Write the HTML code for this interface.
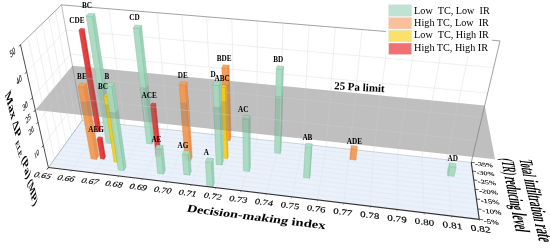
<!DOCTYPE html>
<html><head><meta charset="utf-8"><style>
html,body{margin:0;padding:0;background:#fff;}
svg{display:block;}
text{font-family:"Liberation Serif",serif;fill:#000;}
.bl{font-weight:bold;font-size:7.2px;text-anchor:middle;}
.lg{font-size:10.2px;white-space:pre;}
.pa{font-weight:bold;font-size:11px;}
.tk{font-size:10px;stroke:#000;stroke-width:0.18px;}
.tky{font-size:8px;stroke:#000;stroke-width:0.15px;}
.tkz{font-size:9px;stroke:#000;stroke-width:0.15px;}
.ttl{font-size:14px;font-weight:bold;}
.zt{font-size:12px;font-weight:bold;}
.yt{font-size:10px;font-weight:bold;}
</style></head><body>
<svg width="550" height="248" viewBox="0 0 550 248">
<rect width="550" height="248" fill="#fff"/>
<polygon points="48.4,167.57 82.27,120.26 61.43,4.86 20.49,44.7" fill="#ffffff" />
<line x1="54.53" y1="159" x2="27.98" y2="37.41" stroke="#e4e4e4" stroke-width="0.6" />
<line x1="60.46" y1="150.73" x2="35.19" y2="30.4" stroke="#e4e4e4" stroke-width="0.6" />
<line x1="66.18" y1="142.73" x2="42.12" y2="23.65" stroke="#e4e4e4" stroke-width="0.6" />
<line x1="71.72" y1="134.99" x2="48.8" y2="17.16" stroke="#e4e4e4" stroke-width="0.6" />
<line x1="77.08" y1="127.51" x2="55.23" y2="10.9" stroke="#e4e4e4" stroke-width="0.6" />
<line x1="43.36" y1="145.39" x2="78.47" y2="99.21" stroke="#e4e4e4" stroke-width="0.6" />
<line x1="38.07" y1="122.11" x2="74.5" y2="77.22" stroke="#e4e4e4" stroke-width="0.6" />
<line x1="32.51" y1="97.63" x2="70.34" y2="54.21" stroke="#e4e4e4" stroke-width="0.6" />
<line x1="26.66" y1="71.86" x2="65.99" y2="30.11" stroke="#e4e4e4" stroke-width="0.6" />
<polygon points="82.27,120.26 471.27,162.41 500.01,40.87 61.43,4.86" fill="#ffffff" />
<line x1="103.37" y1="122.55" x2="84.98" y2="6.79" stroke="#e4e4e4" stroke-width="0.6" />
<line x1="124.67" y1="124.86" x2="108.78" y2="8.75" stroke="#e4e4e4" stroke-width="0.6" />
<line x1="146.19" y1="127.19" x2="132.84" y2="10.72" stroke="#e4e4e4" stroke-width="0.6" />
<line x1="167.92" y1="129.54" x2="157.18" y2="12.72" stroke="#e4e4e4" stroke-width="0.6" />
<line x1="189.86" y1="131.92" x2="181.78" y2="14.74" stroke="#e4e4e4" stroke-width="0.6" />
<line x1="212.02" y1="134.32" x2="206.66" y2="16.78" stroke="#e4e4e4" stroke-width="0.6" />
<line x1="234.41" y1="136.75" x2="231.83" y2="18.85" stroke="#e4e4e4" stroke-width="0.6" />
<line x1="257.02" y1="139.2" x2="257.27" y2="20.94" stroke="#e4e4e4" stroke-width="0.6" />
<line x1="279.86" y1="141.67" x2="283.01" y2="23.05" stroke="#e4e4e4" stroke-width="0.6" />
<line x1="302.93" y1="144.17" x2="309.05" y2="25.19" stroke="#e4e4e4" stroke-width="0.6" />
<line x1="326.24" y1="146.7" x2="335.38" y2="27.35" stroke="#e4e4e4" stroke-width="0.6" />
<line x1="349.79" y1="149.25" x2="362.02" y2="29.54" stroke="#e4e4e4" stroke-width="0.6" />
<line x1="373.58" y1="151.83" x2="388.98" y2="31.75" stroke="#e4e4e4" stroke-width="0.6" />
<line x1="397.63" y1="154.43" x2="416.25" y2="33.99" stroke="#e4e4e4" stroke-width="0.6" />
<line x1="421.92" y1="157.06" x2="443.84" y2="36.26" stroke="#e4e4e4" stroke-width="0.6" />
<line x1="446.47" y1="159.72" x2="471.76" y2="38.55" stroke="#e4e4e4" stroke-width="0.6" />
<line x1="78.47" y1="99.21" x2="476.47" y2="140.44" stroke="#e4e4e4" stroke-width="0.6" />
<line x1="74.5" y1="77.22" x2="481.92" y2="117.38" stroke="#e4e4e4" stroke-width="0.6" />
<line x1="70.34" y1="54.21" x2="487.65" y2="93.17" stroke="#e4e4e4" stroke-width="0.6" />
<line x1="65.99" y1="30.11" x2="493.67" y2="67.69" stroke="#e4e4e4" stroke-width="0.6" />
<polygon points="48.4,167.57 479.29,219.37 471.27,162.41 82.27,120.26" fill="#eaf1fa" />
<line x1="71.56" y1="170.35" x2="103.37" y2="122.55" stroke="#dee6f0" stroke-width="0.6" />
<line x1="94.97" y1="173.17" x2="124.67" y2="124.86" stroke="#dee6f0" stroke-width="0.6" />
<line x1="118.64" y1="176.01" x2="146.19" y2="127.19" stroke="#dee6f0" stroke-width="0.6" />
<line x1="142.56" y1="178.89" x2="167.92" y2="129.54" stroke="#dee6f0" stroke-width="0.6" />
<line x1="166.75" y1="181.8" x2="189.86" y2="131.92" stroke="#dee6f0" stroke-width="0.6" />
<line x1="191.21" y1="184.74" x2="212.02" y2="134.32" stroke="#dee6f0" stroke-width="0.6" />
<line x1="215.94" y1="187.71" x2="234.41" y2="136.75" stroke="#dee6f0" stroke-width="0.6" />
<line x1="240.95" y1="190.72" x2="257.02" y2="139.2" stroke="#dee6f0" stroke-width="0.6" />
<line x1="266.24" y1="193.76" x2="279.86" y2="141.67" stroke="#dee6f0" stroke-width="0.6" />
<line x1="291.81" y1="196.83" x2="302.93" y2="144.17" stroke="#dee6f0" stroke-width="0.6" />
<line x1="317.68" y1="199.94" x2="326.24" y2="146.7" stroke="#dee6f0" stroke-width="0.6" />
<line x1="343.84" y1="203.09" x2="349.79" y2="149.25" stroke="#dee6f0" stroke-width="0.6" />
<line x1="370.31" y1="206.27" x2="373.58" y2="151.83" stroke="#dee6f0" stroke-width="0.6" />
<line x1="397.08" y1="209.49" x2="397.63" y2="154.43" stroke="#dee6f0" stroke-width="0.6" />
<line x1="424.16" y1="212.74" x2="421.92" y2="157.06" stroke="#dee6f0" stroke-width="0.6" />
<line x1="451.56" y1="216.04" x2="446.47" y2="159.72" stroke="#dee6f0" stroke-width="0.6" />
<line x1="51.49" y1="163.25" x2="478.55" y2="214.12" stroke="#dee6f0" stroke-width="0.6" />
<line x1="54.53" y1="159" x2="477.83" y2="208.97" stroke="#dee6f0" stroke-width="0.6" />
<line x1="57.52" y1="154.83" x2="477.11" y2="203.92" stroke="#dee6f0" stroke-width="0.6" />
<line x1="60.46" y1="150.73" x2="476.42" y2="198.97" stroke="#dee6f0" stroke-width="0.6" />
<line x1="63.35" y1="146.69" x2="475.73" y2="194.1" stroke="#dee6f0" stroke-width="0.6" />
<line x1="66.18" y1="142.73" x2="475.06" y2="189.32" stroke="#dee6f0" stroke-width="0.6" />
<line x1="68.98" y1="138.83" x2="474.4" y2="184.64" stroke="#dee6f0" stroke-width="0.6" />
<line x1="71.72" y1="134.99" x2="473.75" y2="180.03" stroke="#dee6f0" stroke-width="0.6" />
<line x1="74.42" y1="131.22" x2="473.12" y2="175.51" stroke="#dee6f0" stroke-width="0.6" />
<line x1="77.08" y1="127.51" x2="472.49" y2="171.06" stroke="#dee6f0" stroke-width="0.6" />
<line x1="79.69" y1="123.85" x2="471.88" y2="166.7" stroke="#dee6f0" stroke-width="0.6" />
<line x1="61.43" y1="4.86" x2="500.01" y2="40.87" stroke="#8a8a8a" stroke-width="0.8" />
<line x1="20.49" y1="44.7" x2="61.43" y2="4.86" stroke="#8a8a8a" stroke-width="0.8" />
<line x1="82.27" y1="120.26" x2="61.43" y2="4.86" stroke="#a0a0a0" stroke-width="0.7" />
<line x1="471.27" y1="162.41" x2="500.01" y2="40.87" stroke="#8a8a8a" stroke-width="0.8" />
<line x1="82.27" y1="120.26" x2="471.27" y2="162.41" stroke="#b0b8c4" stroke-width="0.6" />
<line x1="48.4" y1="167.57" x2="82.27" y2="120.26" stroke="#9aa3ae" stroke-width="0.7" />
<g fill-opacity="0.9" stroke="#bf2a2a" stroke-width="0.45" stroke-linejoin="round" stroke-opacity="0.8">
<polygon points="95.99,131.57 99.41,131.95 90.32,76.72 86.71,76.37" fill="#e52d2b" />
<polygon points="99.41,131.95 100.8,129.84 91.83,74.76 90.32,76.72" fill="#d82221" />
</g>
<g fill-opacity="0.9" stroke="#7fb89a" stroke-width="0.45" stroke-linejoin="round" stroke-opacity="0.8">
<polygon points="106.35,142.98 111.78,143.6 103.19,87.6 97.44,87.02" fill="#a3d8bd" />
<polygon points="111.78,143.6 113.87,140.21 105.47,84.44 103.19,87.6" fill="#95ceb2" />
</g>
<g fill-opacity="0.9" stroke="#7fb89a" stroke-width="0.45" stroke-linejoin="round" stroke-opacity="0.8">
<polygon points="146.7,143.44 152.19,144.06 146.02,88.05 140.21,87.47" fill="#a3d8bd" />
<polygon points="152.19,144.06 153.99,140.67 147.97,84.89 146.02,88.05" fill="#95ceb2" />
</g>
<g fill-opacity="0.9" stroke="#d9843f" stroke-width="0.45" stroke-linejoin="round" stroke-opacity="0.8">
<polygon points="224.18,140.11 229.72,140.71 228.22,84.97 222.35,84.41" fill="#f4954a" />
<polygon points="229.72,140.71 230.96,137.38 229.54,81.86 228.22,84.97" fill="#ea8a3f" />
</g>
<g fill-opacity="0.9" stroke="#d9843f" stroke-width="0.45" stroke-linejoin="round" stroke-opacity="0.8">
<polygon points="90.98,158.8 96.58,159.45 86.73,102.43 80.8,101.81" fill="#f4954a" />
<polygon points="96.58,159.45 98.85,155.84 89.22,99.04 86.73,102.43" fill="#ea8a3f" />
</g>
<g fill-opacity="0.9" stroke="#bf2a2a" stroke-width="0.45" stroke-linejoin="round" stroke-opacity="0.8">
<polygon points="100.39,158.8 104.01,159.23 100.76,139.49 97.07,139.07" fill="#e52d2b" />
<polygon points="104.01,159.23 105.46,156.86 102.26,137.17 100.76,139.49" fill="#d82221" />
<polygon points="97.07,139.07 100.76,139.49 102.26,137.17 98.58,136.76" fill="#e83a38" />
</g>
<g fill-opacity="0.9" stroke="#bf2a2a" stroke-width="0.45" stroke-linejoin="round" stroke-opacity="0.8">
<polygon points="156.04,156.03 159.68,156.45 154.42,105.65 150.58,105.25" fill="#e52d2b" />
<polygon points="159.68,156.45 160.85,154.12 155.68,103.44 154.42,105.65" fill="#d82221" />
<polygon points="150.58,105.25 154.42,105.65 155.68,103.44 151.86,103.05" fill="#e83a38" />
</g>
<g fill-opacity="0.9" stroke="#d2ab00" stroke-width="0.45" stroke-linejoin="round" stroke-opacity="0.8">
<polygon points="114.02,161.92 117.67,162.35 109.09,105.16 105.21,104.76" fill="#f8cc15" />
<polygon points="117.67,162.35 119.07,159.95 110.61,102.91 109.09,105.16" fill="#eec005" />
</g>
<g fill-opacity="0.9" stroke="#7fb89a" stroke-width="0.45" stroke-linejoin="round" stroke-opacity="0.8">
<polygon points="274.47,152.8 280.23,153.44 281.77,96.9 275.66,96.3" fill="#a3d8bd" />
<polygon points="280.23,153.44 281.12,149.92 282.71,93.61 281.77,96.9" fill="#95ceb2" />
</g>
<g fill-opacity="0.9" stroke="#7fb89a" stroke-width="0.45" stroke-linejoin="round" stroke-opacity="0.8">
<polygon points="447.86,175.76 454.11,176.46 456.1,167.45 449.78,166.76" fill="#a3d8bd" />
<polygon points="447.86,175.76 447.51,171.91 449.42,162.94 449.78,166.76" fill="#95ceb2" />
<polygon points="449.78,166.76 456.1,167.45 455.68,163.63 449.42,162.94" fill="#a9ddc3" />
</g>
<g fill-opacity="0.9" stroke="#d9843f" stroke-width="0.45" stroke-linejoin="round" stroke-opacity="0.8">
<polygon points="350.07,159.48 356,160.13 357.14,149.73 351.15,149.08" fill="#f4954a" />
<polygon points="350.07,159.48 350.46,155.87 351.53,145.51 351.15,149.08" fill="#ea8a3f" />
<polygon points="351.15,149.08 357.14,149.73 357.48,146.15 351.53,145.51" fill="#f59e57" />
</g>
<g fill-opacity="0.9" stroke="#d9843f" stroke-width="0.45" stroke-linejoin="round" stroke-opacity="0.8">
<polygon points="184.91,159.97 190.64,160.63 186.64,103.59 180.56,102.97" fill="#f4954a" />
<polygon points="190.64,160.63 192.22,157 188.34,100.19 186.64,103.59" fill="#ea8a3f" />
</g>
<g fill-opacity="0.9" stroke="#d2ab00" stroke-width="0.45" stroke-linejoin="round" stroke-opacity="0.8">
<polygon points="223.69,158.28 227.41,158.7 225.7,101.8 221.75,101.41" fill="#f8cc15" />
<polygon points="227.41,158.7 228.26,156.35 226.61,99.6 225.7,101.8" fill="#eec005" />
</g>
<g fill-opacity="0.9" stroke="#7fb89a" stroke-width="0.45" stroke-linejoin="round" stroke-opacity="0.8">
<polygon points="118.24,169.94 124,170.62 115.67,112.94 109.55,112.29" fill="#a3d8bd" />
<polygon points="124,170.62 126.12,166.84 117.98,109.38 115.67,112.94" fill="#95ceb2" />
</g>
<g fill-opacity="0.9" stroke="#7fb89a" stroke-width="0.45" stroke-linejoin="round" stroke-opacity="0.8">
<polygon points="216.15,164.4 221.97,165.07 219.9,107.78 213.71,107.15" fill="#a3d8bd" />
<polygon points="221.97,165.07 223.33,161.38 221.35,104.31 219.9,107.78" fill="#95ceb2" />
</g>
<g fill-opacity="0.9" stroke="#7fb89a" stroke-width="0.45" stroke-linejoin="round" stroke-opacity="0.8">
<polygon points="157.69,173.43 163.54,174.13 161.03,149.32 155.02,148.64" fill="#a3d8bd" />
<polygon points="163.54,174.13 165.37,170.29 162.92,145.58 161.03,149.32" fill="#95ceb2" />
<polygon points="155.02,148.64 161.03,149.32 162.92,145.58 156.96,144.91" fill="#a9ddc3" />
</g>
<g fill-opacity="0.9" stroke="#7fb89a" stroke-width="0.45" stroke-linejoin="round" stroke-opacity="0.8">
<polygon points="243.34,170.8 249.27,171.48 248.94,119.43 242.67,118.78" fill="#a3d8bd" />
<polygon points="249.27,171.48 250.43,167.69 250.17,115.84 248.94,119.43" fill="#95ceb2" />
<polygon points="242.67,118.78 248.94,119.43 250.17,115.84 243.95,115.2" fill="#a9ddc3" />
</g>
<g fill-opacity="0.9" stroke="#7fb89a" stroke-width="0.45" stroke-linejoin="round" stroke-opacity="0.8">
<polygon points="183.75,174.48 189.65,175.18 188.18,154.93 182.15,154.24" fill="#a3d8bd" />
<polygon points="189.65,175.18 191.28,171.33 189.86,151.15 188.18,154.93" fill="#95ceb2" />
<polygon points="182.15,154.24 188.18,154.93 189.86,151.15 183.87,150.48" fill="#a9ddc3" />
</g>
<g fill-opacity="0.9" stroke="#7fb89a" stroke-width="0.45" stroke-linejoin="round" stroke-opacity="0.8">
<polygon points="303.44,177.59 309.52,178.29 311.38,147.63 305.09,146.94" fill="#a3d8bd" />
<polygon points="309.52,178.29 310.24,174.4 312.11,143.85 311.38,147.63" fill="#95ceb2" />
<polygon points="305.09,146.94 311.38,147.63 312.11,143.85 305.86,143.17" fill="#a9ddc3" />
</g>
<g fill-opacity="0.9" stroke="#7fb89a" stroke-width="0.45" stroke-linejoin="round" stroke-opacity="0.8">
<polygon points="206.78,186.39 212.85,187.12 211.68,162.5 205.45,161.78" fill="#a3d8bd" />
<polygon points="212.85,187.12 214.33,183.09 213.22,158.55 211.68,162.5" fill="#95ceb2" />
<polygon points="205.45,161.78 211.68,162.5 213.22,158.55 207.03,157.85" fill="#a9ddc3" />
</g>
<polygon points="35.33,110.02 495,159.28 484.75,105.43 72.44,65.84" fill="rgba(128,128,128,0.5)" />
<clipPath id="pl"><polygon points="35.33,110.02 495,159.28 484.75,105.43 72.44,65.84"/></clipPath>
<g clip-path="url(#pl)" opacity="0.4">
<g fill-opacity="0.9" stroke="#bf2a2a" stroke-width="0.45" stroke-linejoin="round" stroke-opacity="0.8">
<polygon points="95.99,131.57 99.41,131.95 90.32,76.72 86.71,76.37" fill="#e52d2b" />
<polygon points="99.41,131.95 100.8,129.84 91.83,74.76 90.32,76.72" fill="#d82221" />
</g>
<g fill-opacity="0.9" stroke="#7fb89a" stroke-width="0.45" stroke-linejoin="round" stroke-opacity="0.8">
<polygon points="106.35,142.98 111.78,143.6 103.19,87.6 97.44,87.02" fill="#a3d8bd" />
<polygon points="111.78,143.6 113.87,140.21 105.47,84.44 103.19,87.6" fill="#95ceb2" />
</g>
<g fill-opacity="0.9" stroke="#7fb89a" stroke-width="0.45" stroke-linejoin="round" stroke-opacity="0.8">
<polygon points="146.7,143.44 152.19,144.06 146.02,88.05 140.21,87.47" fill="#a3d8bd" />
<polygon points="152.19,144.06 153.99,140.67 147.97,84.89 146.02,88.05" fill="#95ceb2" />
</g>
<g fill-opacity="0.9" stroke="#d9843f" stroke-width="0.45" stroke-linejoin="round" stroke-opacity="0.8">
<polygon points="224.18,140.11 229.72,140.71 228.22,84.97 222.35,84.41" fill="#f4954a" />
<polygon points="229.72,140.71 230.96,137.38 229.54,81.86 228.22,84.97" fill="#ea8a3f" />
</g>
<g fill-opacity="0.9" stroke="#d9843f" stroke-width="0.45" stroke-linejoin="round" stroke-opacity="0.8">
<polygon points="90.98,158.8 96.58,159.45 86.73,102.43 80.8,101.81" fill="#f4954a" />
<polygon points="96.58,159.45 98.85,155.84 89.22,99.04 86.73,102.43" fill="#ea8a3f" />
</g>
<g fill-opacity="0.9" stroke="#bf2a2a" stroke-width="0.45" stroke-linejoin="round" stroke-opacity="0.8">
<polygon points="100.39,158.8 104.01,159.23 100.76,139.49 97.07,139.07" fill="#e52d2b" />
<polygon points="104.01,159.23 105.46,156.86 102.26,137.17 100.76,139.49" fill="#d82221" />
<polygon points="97.07,139.07 100.76,139.49 102.26,137.17 98.58,136.76" fill="#e83a38" />
</g>
<g fill-opacity="0.9" stroke="#bf2a2a" stroke-width="0.45" stroke-linejoin="round" stroke-opacity="0.8">
<polygon points="156.04,156.03 159.68,156.45 154.42,105.65 150.58,105.25" fill="#e52d2b" />
<polygon points="159.68,156.45 160.85,154.12 155.68,103.44 154.42,105.65" fill="#d82221" />
<polygon points="150.58,105.25 154.42,105.65 155.68,103.44 151.86,103.05" fill="#e83a38" />
</g>
<g fill-opacity="0.9" stroke="#d2ab00" stroke-width="0.45" stroke-linejoin="round" stroke-opacity="0.8">
<polygon points="114.02,161.92 117.67,162.35 109.09,105.16 105.21,104.76" fill="#f8cc15" />
<polygon points="117.67,162.35 119.07,159.95 110.61,102.91 109.09,105.16" fill="#eec005" />
</g>
<g fill-opacity="0.9" stroke="#7fb89a" stroke-width="0.45" stroke-linejoin="round" stroke-opacity="0.8">
<polygon points="274.47,152.8 280.23,153.44 281.77,96.9 275.66,96.3" fill="#a3d8bd" />
<polygon points="280.23,153.44 281.12,149.92 282.71,93.61 281.77,96.9" fill="#95ceb2" />
</g>
<g fill-opacity="0.9" stroke="#7fb89a" stroke-width="0.45" stroke-linejoin="round" stroke-opacity="0.8">
<polygon points="447.86,175.76 454.11,176.46 456.1,167.45 449.78,166.76" fill="#a3d8bd" />
<polygon points="447.86,175.76 447.51,171.91 449.42,162.94 449.78,166.76" fill="#95ceb2" />
<polygon points="449.78,166.76 456.1,167.45 455.68,163.63 449.42,162.94" fill="#a9ddc3" />
</g>
<g fill-opacity="0.9" stroke="#d9843f" stroke-width="0.45" stroke-linejoin="round" stroke-opacity="0.8">
<polygon points="350.07,159.48 356,160.13 357.14,149.73 351.15,149.08" fill="#f4954a" />
<polygon points="350.07,159.48 350.46,155.87 351.53,145.51 351.15,149.08" fill="#ea8a3f" />
<polygon points="351.15,149.08 357.14,149.73 357.48,146.15 351.53,145.51" fill="#f59e57" />
</g>
<g fill-opacity="0.9" stroke="#d9843f" stroke-width="0.45" stroke-linejoin="round" stroke-opacity="0.8">
<polygon points="184.91,159.97 190.64,160.63 186.64,103.59 180.56,102.97" fill="#f4954a" />
<polygon points="190.64,160.63 192.22,157 188.34,100.19 186.64,103.59" fill="#ea8a3f" />
</g>
<g fill-opacity="0.9" stroke="#d2ab00" stroke-width="0.45" stroke-linejoin="round" stroke-opacity="0.8">
<polygon points="223.69,158.28 227.41,158.7 225.7,101.8 221.75,101.41" fill="#f8cc15" />
<polygon points="227.41,158.7 228.26,156.35 226.61,99.6 225.7,101.8" fill="#eec005" />
</g>
<g fill-opacity="0.9" stroke="#7fb89a" stroke-width="0.45" stroke-linejoin="round" stroke-opacity="0.8">
<polygon points="118.24,169.94 124,170.62 115.67,112.94 109.55,112.29" fill="#a3d8bd" />
<polygon points="124,170.62 126.12,166.84 117.98,109.38 115.67,112.94" fill="#95ceb2" />
</g>
<g fill-opacity="0.9" stroke="#7fb89a" stroke-width="0.45" stroke-linejoin="round" stroke-opacity="0.8">
<polygon points="216.15,164.4 221.97,165.07 219.9,107.78 213.71,107.15" fill="#a3d8bd" />
<polygon points="221.97,165.07 223.33,161.38 221.35,104.31 219.9,107.78" fill="#95ceb2" />
</g>
<g fill-opacity="0.9" stroke="#7fb89a" stroke-width="0.45" stroke-linejoin="round" stroke-opacity="0.8">
<polygon points="157.69,173.43 163.54,174.13 161.03,149.32 155.02,148.64" fill="#a3d8bd" />
<polygon points="163.54,174.13 165.37,170.29 162.92,145.58 161.03,149.32" fill="#95ceb2" />
<polygon points="155.02,148.64 161.03,149.32 162.92,145.58 156.96,144.91" fill="#a9ddc3" />
</g>
<g fill-opacity="0.9" stroke="#7fb89a" stroke-width="0.45" stroke-linejoin="round" stroke-opacity="0.8">
<polygon points="243.34,170.8 249.27,171.48 248.94,119.43 242.67,118.78" fill="#a3d8bd" />
<polygon points="249.27,171.48 250.43,167.69 250.17,115.84 248.94,119.43" fill="#95ceb2" />
<polygon points="242.67,118.78 248.94,119.43 250.17,115.84 243.95,115.2" fill="#a9ddc3" />
</g>
<g fill-opacity="0.9" stroke="#7fb89a" stroke-width="0.45" stroke-linejoin="round" stroke-opacity="0.8">
<polygon points="183.75,174.48 189.65,175.18 188.18,154.93 182.15,154.24" fill="#a3d8bd" />
<polygon points="189.65,175.18 191.28,171.33 189.86,151.15 188.18,154.93" fill="#95ceb2" />
<polygon points="182.15,154.24 188.18,154.93 189.86,151.15 183.87,150.48" fill="#a9ddc3" />
</g>
<g fill-opacity="0.9" stroke="#7fb89a" stroke-width="0.45" stroke-linejoin="round" stroke-opacity="0.8">
<polygon points="303.44,177.59 309.52,178.29 311.38,147.63 305.09,146.94" fill="#a3d8bd" />
<polygon points="309.52,178.29 310.24,174.4 312.11,143.85 311.38,147.63" fill="#95ceb2" />
<polygon points="305.09,146.94 311.38,147.63 312.11,143.85 305.86,143.17" fill="#a9ddc3" />
</g>
<g fill-opacity="0.9" stroke="#7fb89a" stroke-width="0.45" stroke-linejoin="round" stroke-opacity="0.8">
<polygon points="206.78,186.39 212.85,187.12 211.68,162.5 205.45,161.78" fill="#a3d8bd" />
<polygon points="212.85,187.12 214.33,183.09 213.22,158.55 211.68,162.5" fill="#95ceb2" />
<polygon points="205.45,161.78 211.68,162.5 213.22,158.55 207.03,157.85" fill="#a9ddc3" />
</g>
</g>
<g clip-path="url(#pl)" opacity="0.4">
<line x1="103.37" y1="122.55" x2="84.98" y2="6.79" stroke="#f2f2f2" stroke-width="0.6" />
<line x1="124.67" y1="124.86" x2="108.78" y2="8.75" stroke="#f2f2f2" stroke-width="0.6" />
<line x1="146.19" y1="127.19" x2="132.84" y2="10.72" stroke="#f2f2f2" stroke-width="0.6" />
<line x1="167.92" y1="129.54" x2="157.18" y2="12.72" stroke="#f2f2f2" stroke-width="0.6" />
<line x1="189.86" y1="131.92" x2="181.78" y2="14.74" stroke="#f2f2f2" stroke-width="0.6" />
<line x1="212.02" y1="134.32" x2="206.66" y2="16.78" stroke="#f2f2f2" stroke-width="0.6" />
<line x1="234.41" y1="136.75" x2="231.83" y2="18.85" stroke="#f2f2f2" stroke-width="0.6" />
<line x1="257.02" y1="139.2" x2="257.27" y2="20.94" stroke="#f2f2f2" stroke-width="0.6" />
<line x1="279.86" y1="141.67" x2="283.01" y2="23.05" stroke="#f2f2f2" stroke-width="0.6" />
<line x1="302.93" y1="144.17" x2="309.05" y2="25.19" stroke="#f2f2f2" stroke-width="0.6" />
<line x1="326.24" y1="146.7" x2="335.38" y2="27.35" stroke="#f2f2f2" stroke-width="0.6" />
<line x1="349.79" y1="149.25" x2="362.02" y2="29.54" stroke="#f2f2f2" stroke-width="0.6" />
<line x1="373.58" y1="151.83" x2="388.98" y2="31.75" stroke="#f2f2f2" stroke-width="0.6" />
<line x1="397.63" y1="154.43" x2="416.25" y2="33.99" stroke="#f2f2f2" stroke-width="0.6" />
<line x1="421.92" y1="157.06" x2="443.84" y2="36.26" stroke="#f2f2f2" stroke-width="0.6" />
<line x1="446.47" y1="159.72" x2="471.76" y2="38.55" stroke="#f2f2f2" stroke-width="0.6" />
<line x1="78.47" y1="99.21" x2="476.47" y2="140.44" stroke="#f2f2f2" stroke-width="0.6" />
<line x1="74.5" y1="77.22" x2="481.92" y2="117.38" stroke="#f2f2f2" stroke-width="0.6" />
<line x1="70.34" y1="54.21" x2="487.65" y2="93.17" stroke="#f2f2f2" stroke-width="0.6" />
<line x1="65.99" y1="30.11" x2="493.67" y2="67.69" stroke="#f2f2f2" stroke-width="0.6" />
<line x1="54.53" y1="159" x2="27.98" y2="37.41" stroke="#f2f2f2" stroke-width="0.6" />
<line x1="60.46" y1="150.73" x2="35.19" y2="30.4" stroke="#f2f2f2" stroke-width="0.6" />
<line x1="66.18" y1="142.73" x2="42.12" y2="23.65" stroke="#f2f2f2" stroke-width="0.6" />
<line x1="71.72" y1="134.99" x2="48.8" y2="17.16" stroke="#f2f2f2" stroke-width="0.6" />
<line x1="77.08" y1="127.51" x2="55.23" y2="10.9" stroke="#f2f2f2" stroke-width="0.6" />
<line x1="43.36" y1="145.39" x2="78.47" y2="99.21" stroke="#f2f2f2" stroke-width="0.6" />
<line x1="38.07" y1="122.11" x2="74.5" y2="77.22" stroke="#f2f2f2" stroke-width="0.6" />
<line x1="32.51" y1="97.63" x2="70.34" y2="54.21" stroke="#f2f2f2" stroke-width="0.6" />
<line x1="26.66" y1="71.86" x2="65.99" y2="30.11" stroke="#f2f2f2" stroke-width="0.6" />
</g>
<g fill-opacity="0.9" stroke="#bf2a2a" stroke-width="0.45" stroke-linejoin="round" stroke-opacity="0.8">
<polygon points="86.71,76.37 90.32,76.72 82.71,30.49 78.94,30.16" fill="#e52d2b" />
<polygon points="90.32,76.72 91.83,74.76 84.33,28.67 82.71,30.49" fill="#d82221" />
<polygon points="78.94,30.16 82.71,30.49 84.33,28.67 80.58,28.35" fill="#e83a38" />
</g>
<g fill-opacity="0.9" stroke="#7fb89a" stroke-width="0.45" stroke-linejoin="round" stroke-opacity="0.8">
<polygon points="97.44,87.02 103.19,87.6 92.29,16.59 86.15,16.08" fill="#a3d8bd" />
<polygon points="103.19,87.6 105.47,84.44 94.83,13.79 92.29,16.59" fill="#95ceb2" />
<polygon points="86.15,16.08 92.29,16.59 94.83,13.79 88.73,13.28" fill="#a9ddc3" />
</g>
<g fill-opacity="0.9" stroke="#7fb89a" stroke-width="0.45" stroke-linejoin="round" stroke-opacity="0.8">
<polygon points="140.21,87.47 146.02,88.05 139.44,28.37 133.29,27.84" fill="#a3d8bd" />
<polygon points="146.02,88.05 147.97,84.89 141.57,25.5 139.44,28.37" fill="#95ceb2" />
<polygon points="133.29,27.84 139.44,28.37 141.57,25.5 135.46,24.98" fill="#a9ddc3" />
</g>
<g fill-opacity="0.9" stroke="#d9843f" stroke-width="0.45" stroke-linejoin="round" stroke-opacity="0.8">
<polygon points="222.35,84.41 228.22,84.97 227.77,68.4 221.81,67.85" fill="#f4954a" />
<polygon points="228.22,84.97 229.54,81.86 229.11,65.36 227.77,68.4" fill="#ea8a3f" />
<polygon points="221.81,67.85 227.77,68.4 229.11,65.36 223.19,64.82" fill="#f59e57" />
</g>
<g fill-opacity="0.9" stroke="#d9843f" stroke-width="0.45" stroke-linejoin="round" stroke-opacity="0.8">
<polygon points="80.8,101.81 86.73,102.43 84.06,86.92 78.03,86.32" fill="#f4954a" />
<polygon points="86.73,102.43 89.22,99.04 86.61,83.61 84.06,86.92" fill="#ea8a3f" />
<polygon points="78.03,86.32 84.06,86.92 86.61,83.61 80.63,83.01" fill="#f59e57" />
</g>
<g fill-opacity="0.9" stroke="#d2ab00" stroke-width="0.45" stroke-linejoin="round" stroke-opacity="0.8">
<polygon points="105.21,104.76 109.09,105.16 107.8,96.58 103.89,96.18" fill="#f8cc15" />
<polygon points="109.09,105.16 110.61,102.91 109.34,94.36 107.8,96.58" fill="#eec005" />
<polygon points="103.89,96.18 107.8,96.58 109.34,94.36 105.45,93.96" fill="#f9d12a" />
</g>
<g fill-opacity="0.9" stroke="#7fb89a" stroke-width="0.45" stroke-linejoin="round" stroke-opacity="0.8">
<polygon points="275.66,96.3 281.77,96.9 282.52,69.52 276.24,68.94" fill="#a3d8bd" />
<polygon points="281.77,96.9 282.71,93.61 283.48,66.35 282.52,69.52" fill="#95ceb2" />
<polygon points="276.24,68.94 282.52,69.52 283.48,66.35 277.25,65.78" fill="#a9ddc3" />
</g>
<g fill-opacity="0.9" stroke="#d9843f" stroke-width="0.45" stroke-linejoin="round" stroke-opacity="0.8">
<polygon points="180.56,102.97 186.64,103.59 185.35,85.32 179.16,84.71" fill="#f4954a" />
<polygon points="186.64,103.59 188.34,100.19 187.1,82 185.35,85.32" fill="#ea8a3f" />
<polygon points="179.16,84.71 185.35,85.32 187.1,82 180.96,81.4" fill="#f59e57" />
</g>
<g fill-opacity="0.9" stroke="#d2ab00" stroke-width="0.45" stroke-linejoin="round" stroke-opacity="0.8">
<polygon points="221.75,101.41 225.7,101.8 225.27,87.58 221.27,87.19" fill="#f8cc15" />
<polygon points="225.7,101.8 226.61,99.6 226.2,85.42 225.27,87.58" fill="#eec005" />
<polygon points="221.27,87.19 225.27,87.58 226.2,85.42 222.21,85.03" fill="#f9d12a" />
</g>
<g fill-opacity="0.9" stroke="#7fb89a" stroke-width="0.45" stroke-linejoin="round" stroke-opacity="0.8">
<polygon points="109.55,112.29 115.67,112.94 111.88,86.72 105.6,86.09" fill="#a3d8bd" />
<polygon points="115.67,112.94 117.98,109.38 114.29,83.29 111.88,86.72" fill="#95ceb2" />
<polygon points="105.6,86.09 111.88,86.72 114.29,83.29 108.06,82.67" fill="#a9ddc3" />
</g>
<g fill-opacity="0.9" stroke="#7fb89a" stroke-width="0.45" stroke-linejoin="round" stroke-opacity="0.8">
<polygon points="213.71,107.15 219.9,107.78 219.09,85.6 212.77,84.99" fill="#a3d8bd" />
<polygon points="219.9,107.78 221.35,104.31 220.59,82.24 219.09,85.6" fill="#95ceb2" />
<polygon points="212.77,84.99 219.09,85.6 220.59,82.24 214.32,81.63" fill="#a9ddc3" />
</g>
<text x="86.9" y="8.4" class="bl">BC</text>
<text x="76.9" y="23.0" class="bl">CDE</text>
<text x="134.5" y="20.1" class="bl">CD</text>
<text x="81.9" y="79.3" class="bl">BE</text>
<text x="107.0" y="79.2" class="bl">B</text>
<text x="103.0" y="88.5" class="bl">BC</text>
<text x="149.2" y="98.4" class="bl">ACE</text>
<text x="182.7" y="77.8" class="bl">DE</text>
<text x="224.2" y="61.2" class="bl">BDE</text>
<text x="213.2" y="76.9" class="bl">D</text>
<text x="222.1" y="81.3" class="bl">ABC</text>
<text x="278.3" y="62.1" class="bl">BD</text>
<text x="243.3" y="111.7" class="bl">AC</text>
<text x="96.0" y="132.1" class="bl">AEG</text>
<text x="156.4" y="141.9" class="bl">AE</text>
<text x="183.0" y="148.0" class="bl">AG</text>
<text x="206.3" y="154.8" class="bl">A</text>
<text x="307.4" y="139.7" class="bl">AB</text>
<text x="354.4" y="144.0" class="bl">ADE</text>
<text x="452.7" y="160.6" class="bl">AD</text>
<line x1="48.4" y1="167.57" x2="20.49" y2="44.7" stroke="#505050" stroke-width="1.0" />
<line x1="48.4" y1="167.57" x2="479.29" y2="219.37" stroke="#333" stroke-width="1.1" />
<line x1="479.29" y1="219.37" x2="471.27" y2="162.41" stroke="#333" stroke-width="1.1" />
<line x1="48.4" y1="167.57" x2="47.46" y2="168.88" stroke="#555" stroke-width="0.6" />
<line x1="71.56" y1="170.35" x2="70.68" y2="171.68" stroke="#555" stroke-width="0.6" />
<line x1="94.97" y1="173.17" x2="94.15" y2="174.51" stroke="#555" stroke-width="0.6" />
<line x1="118.64" y1="176.01" x2="117.87" y2="177.37" stroke="#555" stroke-width="0.6" />
<line x1="142.56" y1="178.89" x2="141.86" y2="180.26" stroke="#555" stroke-width="0.6" />
<line x1="166.75" y1="181.8" x2="166.11" y2="183.18" stroke="#555" stroke-width="0.6" />
<line x1="191.21" y1="184.74" x2="190.63" y2="186.14" stroke="#555" stroke-width="0.6" />
<line x1="215.94" y1="187.71" x2="215.43" y2="189.13" stroke="#555" stroke-width="0.6" />
<line x1="240.95" y1="190.72" x2="240.5" y2="192.15" stroke="#555" stroke-width="0.6" />
<line x1="266.24" y1="193.76" x2="265.86" y2="195.21" stroke="#555" stroke-width="0.6" />
<line x1="291.81" y1="196.83" x2="291.5" y2="198.3" stroke="#555" stroke-width="0.6" />
<line x1="317.68" y1="199.94" x2="317.44" y2="201.43" stroke="#555" stroke-width="0.6" />
<line x1="343.84" y1="203.09" x2="343.68" y2="204.59" stroke="#555" stroke-width="0.6" />
<line x1="370.31" y1="206.27" x2="370.22" y2="207.79" stroke="#555" stroke-width="0.6" />
<line x1="397.08" y1="209.49" x2="397.06" y2="211.03" stroke="#555" stroke-width="0.6" />
<line x1="424.16" y1="212.74" x2="424.23" y2="214.3" stroke="#555" stroke-width="0.6" />
<line x1="451.56" y1="216.04" x2="451.71" y2="217.61" stroke="#555" stroke-width="0.6" />
<line x1="479.29" y1="219.37" x2="479.51" y2="220.96" stroke="#555" stroke-width="0.6" />
<line x1="479.29" y1="219.37" x2="483.08" y2="219.83" stroke="#333" stroke-width="0.8" />
<line x1="477.83" y1="208.97" x2="481.55" y2="209.41" stroke="#333" stroke-width="0.8" />
<line x1="476.42" y1="198.97" x2="480.07" y2="199.39" stroke="#333" stroke-width="0.8" />
<line x1="475.06" y1="189.32" x2="478.64" y2="189.73" stroke="#333" stroke-width="0.8" />
<line x1="473.75" y1="180.03" x2="477.27" y2="180.42" stroke="#333" stroke-width="0.8" />
<line x1="472.49" y1="171.06" x2="475.94" y2="171.45" stroke="#333" stroke-width="0.8" />
<line x1="471.27" y1="162.41" x2="474.67" y2="162.78" stroke="#333" stroke-width="0.8" />
<line x1="48.4" y1="167.57" x2="46.89" y2="169.67" stroke="#333" stroke-width="0.8" />
<line x1="43.36" y1="145.39" x2="41.8" y2="147.45" stroke="#333" stroke-width="0.8" />
<line x1="38.07" y1="122.11" x2="36.45" y2="124.11" stroke="#333" stroke-width="0.8" />
<line x1="35.33" y1="110.02" x2="33.67" y2="112" stroke="#333" stroke-width="0.8" />
<line x1="32.51" y1="97.63" x2="30.82" y2="99.57" stroke="#333" stroke-width="0.8" />
<line x1="26.66" y1="71.86" x2="24.89" y2="73.74" stroke="#333" stroke-width="0.8" />
<line x1="20.49" y1="44.7" x2="18.64" y2="46.5" stroke="#333" stroke-width="0.8" />
<text transform="matrix(0.9481 0.1164 -0.5073 0.7086 41.14 177.71)" class="tk" text-anchor="middle">0.65</text>
<text transform="matrix(0.9585 0.1177 -0.4768 0.7166 64.74 180.61)" class="tk" text-anchor="middle">0.66</text>
<text transform="matrix(0.9692 0.1190 -0.4455 0.7247 88.60 183.54)" class="tk" text-anchor="middle">0.67</text>
<text transform="matrix(0.9800 0.1203 -0.4136 0.7330 112.72 186.50)" class="tk" text-anchor="middle">0.68</text>
<text transform="matrix(0.9910 0.1217 -0.3809 0.7414 137.12 189.50)" class="tk" text-anchor="middle">0.69</text>
<text transform="matrix(1.0021 0.1230 -0.3474 0.7499 161.78 192.53)" class="tk" text-anchor="middle">0.70</text>
<text transform="matrix(1.0135 0.1244 -0.3131 0.7586 186.73 195.59)" class="tk" text-anchor="middle">0.71</text>
<text transform="matrix(1.0251 0.1259 -0.2781 0.7675 211.96 198.69)" class="tk" text-anchor="middle">0.72</text>
<text transform="matrix(1.0368 0.1273 -0.2422 0.7765 237.49 201.82)" class="tk" text-anchor="middle">0.73</text>
<text transform="matrix(1.0488 0.1288 -0.2054 0.7856 263.30 204.99)" class="tk" text-anchor="middle">0.74</text>
<text transform="matrix(1.0610 0.1303 -0.1678 0.7949 289.41 208.20)" class="tk" text-anchor="middle">0.75</text>
<text transform="matrix(1.0734 0.1318 -0.1294 0.8044 315.83 211.44)" class="tk" text-anchor="middle">0.76</text>
<text transform="matrix(1.0860 0.1333 -0.0899 0.8140 342.56 214.72)" class="tk" text-anchor="middle">0.77</text>
<text transform="matrix(1.0988 0.1349 -0.0496 0.8239 369.60 218.04)" class="tk" text-anchor="middle">0.78</text>
<text transform="matrix(1.1119 0.1365 -0.0083 0.8338 396.96 221.40)" class="tk" text-anchor="middle">0.79</text>
<text transform="matrix(1.1252 0.1382 0.0340 0.8440 424.65 224.80)" class="tk" text-anchor="middle">0.80</text>
<text transform="matrix(1.1387 0.1398 0.0774 0.8544 452.67 228.24)" class="tk" text-anchor="middle">0.81</text>
<text transform="matrix(1.1525 0.1415 0.1217 0.8649 481.03 231.73)" class="tk" text-anchor="middle">0.82</text>
<text transform="matrix(1.0144 0.1105 0.0997 0.6717 475.47 165.39)" class="tky" text-anchor="start">-35%</text>
<text transform="matrix(1.0327 0.1143 0.1033 0.6958 476.77 174.15)" class="tky" text-anchor="start">-30%</text>
<text transform="matrix(1.0517 0.1184 0.1070 0.7212 478.12 183.23)" class="tky" text-anchor="start">-25%</text>
<text transform="matrix(1.0715 0.1227 0.1110 0.7481 479.52 192.64)" class="tky" text-anchor="start">-20%</text>
<text transform="matrix(1.0919 0.1273 0.1152 0.7765 480.97 202.41)" class="tky" text-anchor="start">-15%</text>
<text transform="matrix(1.1132 0.1321 0.1197 0.8065 482.47 212.55)" class="tky" text-anchor="start">-10%</text>
<text transform="matrix(1.1353 0.1372 0.1244 0.8383 484.03 223.09)" class="tky" text-anchor="start">-5%</text>
<text transform="matrix(0.5526 -0.5426 0.2395 1.0118 13.19 55.26)" class="tkz" text-anchor="middle">50</text>
<text transform="matrix(0.5288 -0.5659 0.2268 0.9584 19.67 82.62)" class="tkz" text-anchor="middle">40</text>
<text transform="matrix(0.5068 -0.5860 0.2151 0.9090 25.80 108.55)" class="tkz" text-anchor="middle">30</text>
<text transform="matrix(0.4963 -0.5950 0.2096 0.8858 28.75 121.01)" class="tkz" text-anchor="middle">25</text>
<text transform="matrix(0.4863 -0.6034 0.2043 0.8634 31.63 133.15)" class="tkz" text-anchor="middle">20</text>
<text transform="matrix(0.4671 -0.6183 0.1943 0.8212 37.16 156.54)" class="tkz" text-anchor="middle">10</text>
<text transform="matrix(1.0088 0.1275 -0.2291 0.7509 186.15 211.62)" font-size="14" font-weight="bold">Decision-making</text>
<text transform="matrix(1.0413 0.1316 -0.1323 0.7756 290.99 224.88)" font-size="14" font-weight="bold">index</text>
<text transform="matrix(0.2810 1.1042 -0.6436 0.7101 5.05 94.79)" font-size="12" font-weight="bold">Max</text>
<text transform="matrix(0.2674 1.0506 -0.6181 0.7306 12.43 123.77)" font-size="12" font-weight="bold">ΔP</text>
<text transform="matrix(0.2603 1.0144 -0.6046 0.7502 15.36 143.16)" font-size="7.5" font-weight="bold">ELE</text>
<text transform="matrix(0.2461 0.9673 -0.5782 0.7595 21.51 159.48)" font-size="12" font-weight="bold">(Pa)</text>
<text transform="matrix(0.2326 0.9139 -0.5524 0.7760 27.48 182.93)" font-size="12" font-weight="bold">(MP)</text>
<text transform="matrix(0.1920 0.7983 -1.9088 -0.2067 519.19 158.63)" font-size="10" font-weight="bold">Total</text>
<text transform="matrix(0.2173 0.9036 -2.0341 -0.2334 524.06 178.90)" font-size="10" font-weight="bold">infiltration</text>
<text transform="matrix(0.2455 1.0208 -2.1655 -0.2630 534.81 223.60)" font-size="10" font-weight="bold">rate</text>
<text transform="matrix(0.1611 0.7934 -1.8957 -0.2055 500.84 158.00)" font-size="10" font-weight="bold">(TR)</text>
<text transform="matrix(0.1788 0.8810 -1.9997 -0.2277 504.57 176.37)" font-size="10" font-weight="bold">reducing</text>
<text transform="matrix(0.1993 0.9818 -2.1137 -0.2532 511.81 212.05)" font-size="10" font-weight="bold">level</text>
<rect x="386" y="3" width="106" height="53" fill="#fff"/>
<rect x="388.7" y="4.80" width="22.9" height="11.4" fill="#bfe3d2" stroke="#ddd" stroke-width="0.4"/>
<text transform="matrix(1 0 0 1.07 414.1 13.50)" class="lg">Low  TC, Low  IR</text>
<rect x="388.7" y="17.55" width="22.9" height="11.4" fill="#f9c09a" stroke="#ddd" stroke-width="0.4"/>
<text transform="matrix(1 0 0 1.07 414.1 25.95)" class="lg">High TC, Low  IR</text>
<rect x="388.7" y="30.30" width="22.9" height="11.4" fill="#fbe06a" stroke="#ddd" stroke-width="0.4"/>
<text transform="matrix(1 0 0 1.07 414.1 38.40)" class="lg">Low  TC, High IR</text>
<rect x="388.7" y="43.05" width="22.9" height="11.4" fill="#f07174" stroke="#ddd" stroke-width="0.4"/>
<text transform="matrix(1 0 0 1.07 414.1 50.85)" class="lg">High TC, High IR</text>
<text x="333.9" y="89.3" class="pa" transform="rotate(3.3 333.9 89.3)">25 Pa limit</text>
</svg></body></html>
